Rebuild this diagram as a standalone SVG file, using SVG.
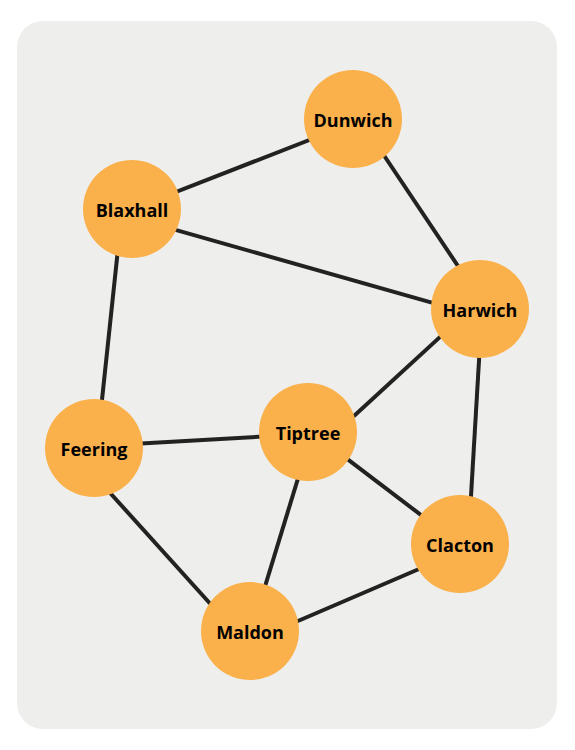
<svg xmlns="http://www.w3.org/2000/svg" width="575" height="750" viewBox="0 0 575 750">
<style>
.bg{fill:#eeeeec}
.e{stroke:#222222;stroke-width:4;stroke-linecap:butt}
.n{fill:#fbb14b}
.t{font-family:"Open Sans","Liberation Sans",sans-serif;font-weight:bold;font-size:18px;fill:#000;text-anchor:middle;dominant-baseline:central}
</style>
<rect class="bg" x="17" y="21" width="540" height="708" rx="26"/>
<g id="connectors">
<line class="e" x1="140" y1="206" x2="340" y2="128"/>
<line class="e" x1="367" y1="130" x2="474" y2="290"/>
<line class="e" x1="150" y1="222.6" x2="460" y2="310.7"/>
<line class="e" x1="120" y1="230" x2="98.8" y2="430"/>
<line class="e" x1="460" y1="318.6" x2="330" y2="438"/>
<line class="e" x1="481.4" y1="320" x2="469" y2="530"/>
<line class="e" x1="110" y1="445.3" x2="290" y2="435"/>
<line class="e" x1="89.4" y1="470" x2="220.4" y2="615"/>
<line class="e" x1="330" y1="445.8" x2="440" y2="529.5"/>
<line class="e" x1="306.7" y1="450" x2="257.8" y2="610"/>
<line class="e" x1="440" y1="560" x2="270" y2="633"/>
</g>
<g id="dunwich"><circle class="n" cx="353" cy="119" r="49"/><text class="t" x="353" y="120">Dunwich</text></g>
<g id="blaxhall"><circle class="n" cx="132" cy="209" r="49"/><text class="t" x="132" y="210">Blaxhall</text></g>
<g id="harwich"><circle class="n" cx="480" cy="309" r="49"/><text class="t" x="480" y="310">Harwich</text></g>
<g id="tiptree"><circle class="n" cx="308" cy="432" r="49"/><text class="t" x="308" y="433">Tiptree</text></g>
<g id="feering"><circle class="n" cx="94" cy="448" r="49"/><text class="t" x="94" y="449">Feering</text></g>
<g id="clacton"><circle class="n" cx="460" cy="544" r="49"/><text class="t" x="460" y="545">Clacton</text></g>
<g id="maldon"><circle class="n" cx="250" cy="631" r="49"/><text class="t" x="250" y="632">Maldon</text></g>
</svg>
